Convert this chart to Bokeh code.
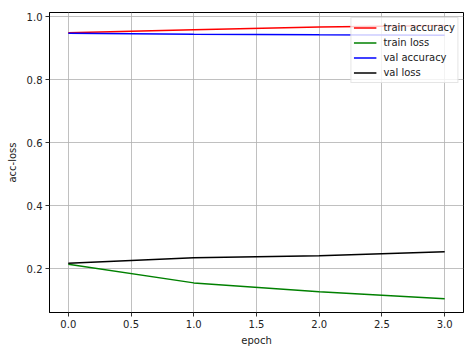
from bokeh.plotting import figure
from bokeh.models import FixedTicker, NumeralTickFormatter, Range1d, Legend, LegendItem
from bokeh.embed import file_html
from bokeh.resources import INLINE

epochs = [0, 1, 2, 3]
train_accuracy = [0.949, 0.958, 0.967, 0.972]
train_loss = [0.214, 0.155, 0.127, 0.105]
val_accuracy = [0.947, 0.944, 0.942, 0.941]
val_loss = [0.217, 0.235, 0.241, 0.254]
x_ticks = [0.0, 0.5, 1.0, 1.5, 2.0, 2.5, 3.0]
y_ticks = [0.2, 0.4, 0.6, 0.8, 1.0]

FONT = "DejaVu Sans"

p = figure(width=474, height=355, output_backend="svg", toolbar_location=None,
           x_range=Range1d(-0.15, 3.15), y_range=Range1d(0.061, 1.013),
           min_border_left=49, min_border_right=11, min_border_top=12, min_border_bottom=43)

p.background_fill_color = "white"
p.outline_line_color = "black"
p.outline_line_width = 1

for ax in (p.xaxis[0], p.yaxis[0]):
    ax.major_label_text_font = FONT
    ax.major_label_text_font_size = "10px"
    ax.major_label_text_color = "#222222"
    ax.axis_label_text_font = FONT
    ax.axis_label_text_font_size = "10px"
    ax.axis_label_text_font_style = "normal"
    ax.axis_label_text_color = "#222222"
    ax.minor_tick_line_color = None
    ax.major_tick_in = 0
    ax.major_tick_out = 4
    ax.major_tick_line_color = "#333333"
    ax.axis_line_color = "black"
    ax.formatter = NumeralTickFormatter(format="0.0")

p.xaxis.ticker = FixedTicker(ticks=x_ticks)
p.yaxis.ticker = FixedTicker(ticks=y_ticks)
p.xaxis.axis_label = "epoch"
p.yaxis.axis_label = "acc-loss"
p.xaxis.axis_label_standoff = 4
p.yaxis.axis_label_standoff = 6
p.xaxis.major_label_standoff = 3
p.yaxis.major_label_standoff = 3

p.grid.grid_line_color = "#b0b0b0"
p.grid.grid_line_width = 1
p.grid.grid_line_alpha = 0.8

r1 = p.line(epochs, train_accuracy, line_color="red", line_width=1.5)
r2 = p.line(epochs, train_loss, line_color="green", line_width=1.5)
r3 = p.line(epochs, val_accuracy, line_color="blue", line_width=1.5)
r4 = p.line(epochs, val_loss, line_color="black", line_width=1.5)

legend = Legend(items=[
    LegendItem(label="train accuracy", renderers=[r1]),
    LegendItem(label="train loss", renderers=[r2]),
    LegendItem(label="val accuracy", renderers=[r3]),
    LegendItem(label="val loss", renderers=[r4]),
], location="top_right")
legend.label_text_font = FONT
legend.label_text_font_size = "10px"
legend.label_text_color = "#222222"
legend.label_height = 15
legend.glyph_height = 15
legend.glyph_width = 23
legend.spacing = 0
legend.padding = 2
legend.margin = 5
legend.border_line_color = "#cccccc"
legend.background_fill_alpha = 0.8
legend.label_standoff = 7
p.add_layout(legend)

open("out.html", "w").write(file_html(p, INLINE))
